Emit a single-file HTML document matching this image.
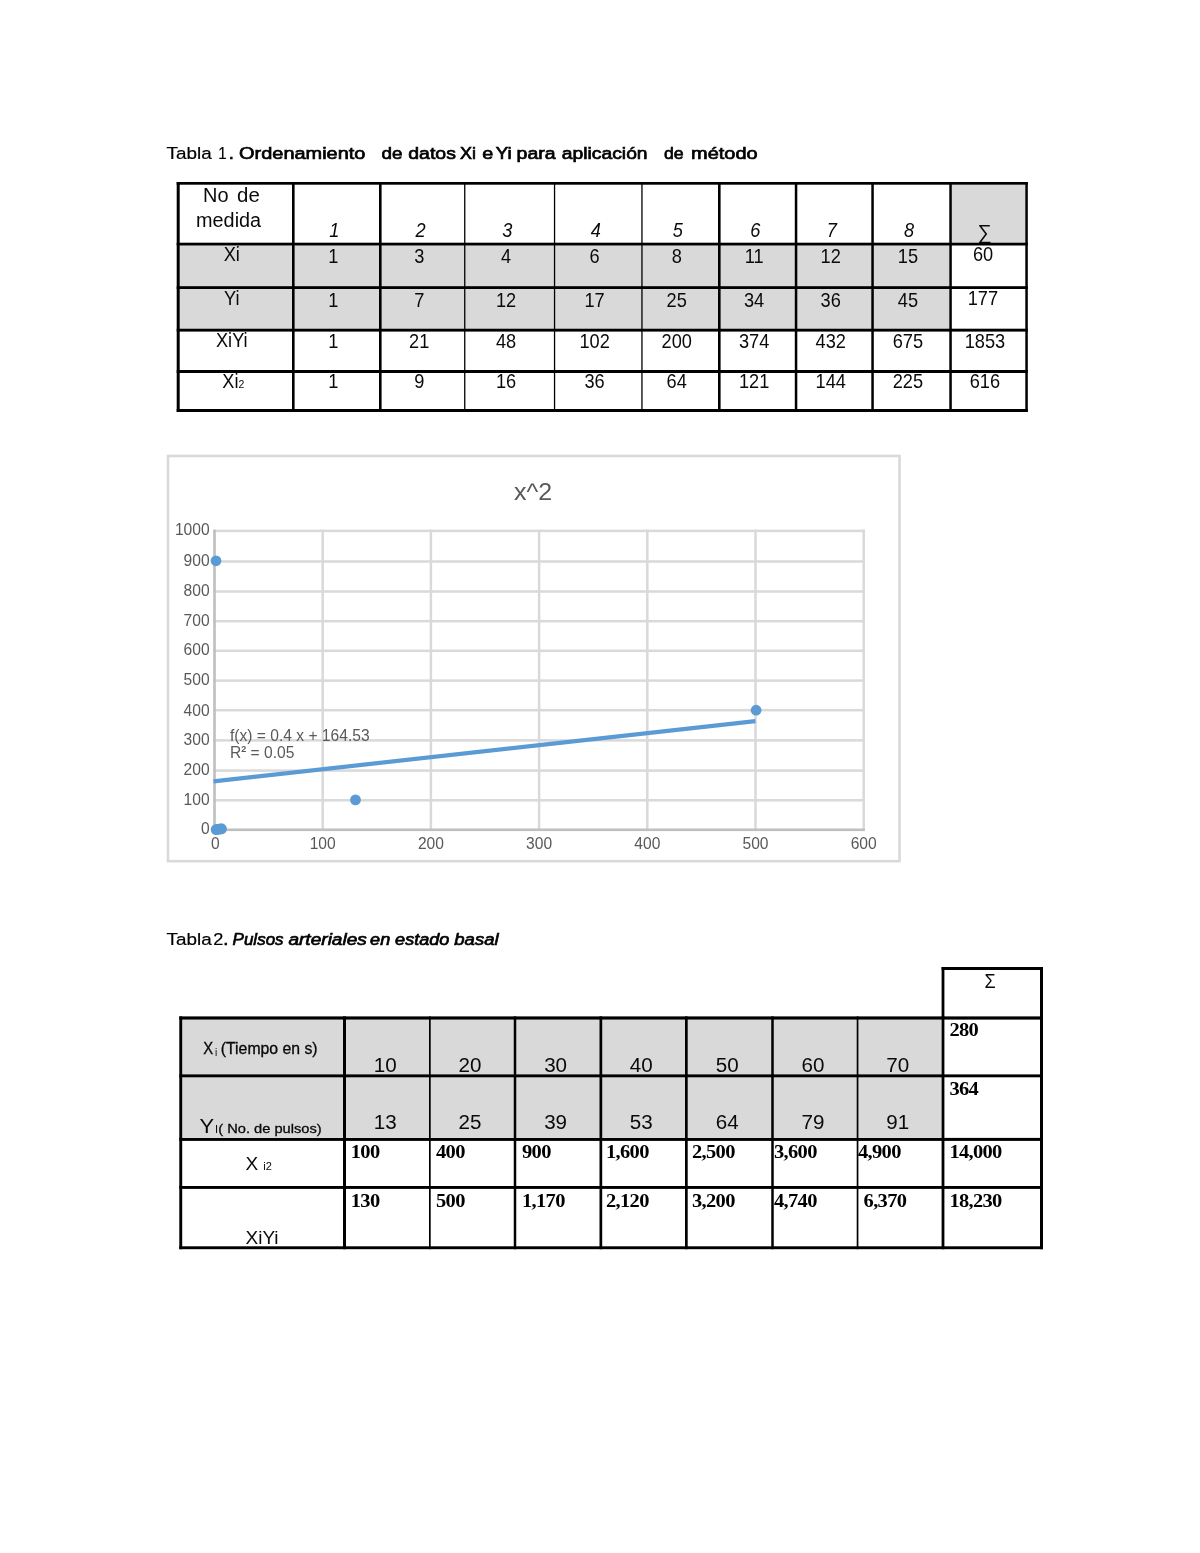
<!DOCTYPE html>
<html lang="es"><head><meta charset="utf-8"><title>Tabla 1 y Tabla 2</title>
<style>
html,body{margin:0;padding:0;background:#fff}
body{width:1200px;height:1553px;overflow:hidden;position:relative}
svg{position:absolute;left:0;top:0;display:block}
text{font-family:"Liberation Sans",sans-serif;fill:#0a0a0a}
.it{font-style:italic}
.cap{font-size:17.4px;fill:#000;stroke:#000;stroke-width:.2px}
.b{stroke:#000;stroke-width:0.7px}
.ch{font-size:15.6px;fill:#595959}
.se{font-family:"Liberation Serif",serif;font-weight:bold;font-size:18.6px;fill:#000;letter-spacing:-0.6px}
.s15{font-size:15.6px;stroke:#000;stroke-width:.3px}.s10{font-size:10px}.s11{font-size:11px}.s13{font-size:13.6px;stroke:#000;stroke-width:.3px}.s19{font-size:19.4px}
.m{text-anchor:middle}
.e{text-anchor:end}
</style></head><body>
<svg width="1200" height="1553" viewBox="0 0 1200 1553">

<text x="166.6" y="159.3" class="cap" textLength="45.1" lengthAdjust="spacingAndGlyphs">Tabla</text>
<text x="218.3" y="159.3" class="cap" textLength="8.4" lengthAdjust="spacingAndGlyphs">1</text>
<text x="228.8" y="159.3" class="cap b" textLength="5.1" lengthAdjust="spacingAndGlyphs">.</text>
<text x="239.1" y="159.3" class="cap b" textLength="126.3" lengthAdjust="spacingAndGlyphs">Ordenamiento</text>
<text x="381.6" y="159.3" class="cap b" textLength="21.0" lengthAdjust="spacingAndGlyphs">de</text>
<text x="408.3" y="159.3" class="cap b" textLength="47.6" lengthAdjust="spacingAndGlyphs">datos</text>
<text x="459.9" y="159.3" class="cap b" textLength="16.0" lengthAdjust="spacingAndGlyphs">Xi</text>
<text x="482.3" y="159.3" class="cap b" textLength="11.0" lengthAdjust="spacingAndGlyphs">e</text>
<text x="495.8" y="159.3" class="cap b" textLength="15.9" lengthAdjust="spacingAndGlyphs">Yi</text>
<text x="516.6" y="159.3" class="cap b" textLength="39.0" lengthAdjust="spacingAndGlyphs">para</text>
<text x="561.8" y="159.3" class="cap b" textLength="85.8" lengthAdjust="spacingAndGlyphs">aplicación</text>
<text x="663.9" y="159.3" class="cap b" textLength="19.7" lengthAdjust="spacingAndGlyphs">de</text>
<text x="691.1" y="159.3" class="cap b" textLength="66.6" lengthAdjust="spacingAndGlyphs">método</text>
<rect x="951.80" y="184.70" width="73.50" height="58.00" fill="#d9d9d9"/>
<rect x="179.50" y="245.50" width="769.80" height="83.20" fill="#d9d9d9"/>
<rect x="176.70" y="182.00" width="3.00" height="230.00" fill="#000"/>
<rect x="292.00" y="182.00" width="2.60" height="230.00" fill="#000"/>
<rect x="379.00" y="182.00" width="2.60" height="230.00" fill="#000"/>
<rect x="464.10" y="182.00" width="1.30" height="230.00" fill="#000"/>
<rect x="553.90" y="182.00" width="1.30" height="230.00" fill="#000"/>
<rect x="641.30" y="182.00" width="1.30" height="230.00" fill="#000"/>
<rect x="718.00" y="182.00" width="2.60" height="230.00" fill="#000"/>
<rect x="794.80" y="182.00" width="2.50" height="230.00" fill="#000"/>
<rect x="871.30" y="182.00" width="2.50" height="230.00" fill="#000"/>
<rect x="949.30" y="182.00" width="2.50" height="230.00" fill="#000"/>
<rect x="1025.30" y="182.00" width="2.50" height="230.00" fill="#000"/>
<rect x="176.70" y="182.00" width="851.10" height="2.70" fill="#000"/>
<rect x="176.70" y="242.70" width="851.10" height="2.80" fill="#000"/>
<rect x="176.70" y="286.20" width="851.10" height="2.80" fill="#000"/>
<rect x="176.70" y="328.70" width="851.10" height="2.90" fill="#000"/>
<rect x="176.70" y="370.00" width="851.10" height="3.00" fill="#000"/>
<rect x="176.70" y="409.00" width="851.10" height="3.00" fill="#000"/>
<text x="203.1" y="202.0" font-size="19.6" textLength="25.5" lengthAdjust="spacingAndGlyphs">No</text>
<text x="237.1" y="202.0" font-size="19.6" textLength="22.7" lengthAdjust="spacingAndGlyphs">de</text>
<text x="196.1" y="227.2" font-size="19.6" textLength="65.0" lengthAdjust="spacingAndGlyphs">medida</text>
<text transform="translate(334.4 237.0) scale(0.91 1)" class="it m" font-size="20">1</text>
<text transform="translate(420.5 237.0) scale(0.91 1)" class="it m" font-size="20">2</text>
<text transform="translate(507.2 237.0) scale(0.91 1)" class="it m" font-size="20">3</text>
<text transform="translate(595.9 237.0) scale(0.91 1)" class="it m" font-size="20">4</text>
<text transform="translate(677.9 237.0) scale(0.91 1)" class="it m" font-size="20">5</text>
<text transform="translate(755.3 237.0) scale(0.91 1)" class="it m" font-size="20">6</text>
<text transform="translate(831.9 237.0) scale(0.91 1)" class="it m" font-size="20">7</text>
<text transform="translate(909.1 237.0) scale(0.91 1)" class="it m" font-size="20">8</text>
<text transform="translate(984.5 239.3) scale(1.0 1)" class="m" font-size="20">∑</text>
<text transform="translate(231.8 260.7) scale(0.91 1)" class="m" font-size="20">Xi</text>
<text transform="translate(333.2 262.5) scale(0.91 1)" class="m" font-size="20">1</text>
<text transform="translate(419.2 262.5) scale(0.91 1)" class="m" font-size="20">3</text>
<text transform="translate(506.0 262.5) scale(0.91 1)" class="m" font-size="20">4</text>
<text transform="translate(594.6 262.5) scale(0.91 1)" class="m" font-size="20">6</text>
<text transform="translate(676.7 262.5) scale(0.91 1)" class="m" font-size="20">8</text>
<text transform="translate(754.1 262.5) scale(0.91 1)" class="m" font-size="20">11</text>
<text transform="translate(830.7 262.5) scale(0.91 1)" class="m" font-size="20">12</text>
<text transform="translate(907.9 262.5) scale(0.91 1)" class="m" font-size="20">15</text>
<text transform="translate(983.1 260.7) scale(0.91 1)" class="m" font-size="20">60</text>
<text transform="translate(231.8 304.7) scale(0.91 1)" class="m" font-size="20">Yi</text>
<text transform="translate(333.2 307.4) scale(0.91 1)" class="m" font-size="20">1</text>
<text transform="translate(419.2 307.4) scale(0.91 1)" class="m" font-size="20">7</text>
<text transform="translate(506.0 307.4) scale(0.91 1)" class="m" font-size="20">12</text>
<text transform="translate(594.6 307.4) scale(0.91 1)" class="m" font-size="20">17</text>
<text transform="translate(676.7 307.4) scale(0.91 1)" class="m" font-size="20">25</text>
<text transform="translate(754.1 307.4) scale(0.91 1)" class="m" font-size="20">34</text>
<text transform="translate(830.7 307.4) scale(0.91 1)" class="m" font-size="20">36</text>
<text transform="translate(907.9 307.4) scale(0.91 1)" class="m" font-size="20">45</text>
<text transform="translate(982.9 304.8) scale(0.91 1)" class="m" font-size="20">177</text>
<text transform="translate(231.8 347.0) scale(0.91 1)" class="m" font-size="20">XiYi</text>
<text transform="translate(333.2 347.5) scale(0.91 1)" class="m" font-size="20">1</text>
<text transform="translate(419.2 347.5) scale(0.91 1)" class="m" font-size="20">21</text>
<text transform="translate(506.0 347.5) scale(0.91 1)" class="m" font-size="20">48</text>
<text transform="translate(594.6 347.5) scale(0.91 1)" class="m" font-size="20">102</text>
<text transform="translate(676.7 347.5) scale(0.91 1)" class="m" font-size="20">200</text>
<text transform="translate(754.1 347.5) scale(0.91 1)" class="m" font-size="20">374</text>
<text transform="translate(830.7 347.5) scale(0.91 1)" class="m" font-size="20">432</text>
<text transform="translate(907.9 347.5) scale(0.91 1)" class="m" font-size="20">675</text>
<text transform="translate(984.9 347.5) scale(0.91 1)" class="m" font-size="20">1853</text>
<text transform="translate(222.3 387.7) scale(0.91 1)" font-size="20">Xi<tspan font-size="11.5">2</tspan></text>
<text transform="translate(333.2 388.4) scale(0.91 1)" class="m" font-size="20">1</text>
<text transform="translate(419.2 388.4) scale(0.91 1)" class="m" font-size="20">9</text>
<text transform="translate(506.0 388.4) scale(0.91 1)" class="m" font-size="20">16</text>
<text transform="translate(594.6 388.4) scale(0.91 1)" class="m" font-size="20">36</text>
<text transform="translate(676.7 388.4) scale(0.91 1)" class="m" font-size="20">64</text>
<text transform="translate(754.1 388.4) scale(0.91 1)" class="m" font-size="20">121</text>
<text transform="translate(830.7 388.4) scale(0.91 1)" class="m" font-size="20">144</text>
<text transform="translate(907.9 388.4) scale(0.91 1)" class="m" font-size="20">225</text>
<text transform="translate(984.9 388.4) scale(0.91 1)" class="m" font-size="20">616</text>
<rect x="168" y="455.95" width="731.5" height="405.2" fill="#fff" stroke="#d9d9d9" stroke-width="2.6"/>
<rect x="213.20" y="799.05" width="651.70" height="2.50" fill="#d9d9d9"/>
<rect x="213.20" y="769.35" width="651.70" height="2.50" fill="#d9d9d9"/>
<rect x="213.20" y="739.15" width="651.70" height="2.50" fill="#d9d9d9"/>
<rect x="213.20" y="708.95" width="651.70" height="2.50" fill="#d9d9d9"/>
<rect x="213.20" y="679.35" width="651.70" height="2.50" fill="#d9d9d9"/>
<rect x="213.20" y="649.55" width="651.70" height="2.50" fill="#d9d9d9"/>
<rect x="213.20" y="619.95" width="651.70" height="2.50" fill="#d9d9d9"/>
<rect x="213.20" y="590.25" width="651.70" height="2.50" fill="#d9d9d9"/>
<rect x="213.20" y="560.25" width="651.70" height="2.50" fill="#d9d9d9"/>
<rect x="213.20" y="529.65" width="651.70" height="2.50" fill="#d9d9d9"/>
<rect x="321.45" y="529.65" width="2.50" height="301.40" fill="#d9d9d9"/>
<rect x="429.65" y="529.65" width="2.50" height="301.40" fill="#d9d9d9"/>
<rect x="537.85" y="529.65" width="2.50" height="301.40" fill="#d9d9d9"/>
<rect x="646.05" y="529.65" width="2.50" height="301.40" fill="#d9d9d9"/>
<rect x="754.25" y="529.65" width="2.50" height="301.40" fill="#d9d9d9"/>
<rect x="862.45" y="529.65" width="2.50" height="301.40" fill="#d9d9d9"/>
<rect x="213.20" y="529.65" width="2.60" height="301.45" fill="#bfbfbf"/>
<rect x="213.20" y="828.50" width="651.70" height="2.60" fill="#bfbfbf"/>
<text x="209.6" y="834.2" class="ch e">0</text>
<text x="209.6" y="804.7" class="ch e">100</text>
<text x="209.6" y="775.0" class="ch e">200</text>
<text x="209.6" y="744.8" class="ch e">300</text>
<text x="209.6" y="715.5" class="ch e">400</text>
<text x="209.6" y="685.0" class="ch e">500</text>
<text x="209.6" y="655.2" class="ch e">600</text>
<text x="209.6" y="625.6" class="ch e">700</text>
<text x="209.6" y="595.9" class="ch e">800</text>
<text x="209.6" y="566.1" class="ch e">900</text>
<text x="209.6" y="534.9" class="ch e">1000</text>
<text x="215.4" y="848.5" class="ch m">0</text>
<text x="322.7" y="848.5" class="ch m">100</text>
<text x="430.9" y="848.5" class="ch m">200</text>
<text x="539.1" y="848.5" class="ch m">300</text>
<text x="647.3" y="848.5" class="ch m">400</text>
<text x="755.5" y="848.5" class="ch m">500</text>
<text x="863.7" y="848.5" class="ch m">600</text>
<text transform="translate(533 499.5) scale(1.07 1)" class="m" style="font-size:23.4px;fill:#595959">x^2</text>
<line x1="213.5" y1="781.3" x2="755.5" y2="721.2" stroke="#5b9bd5" stroke-width="4.2"/>
<circle cx="216.0" cy="560.8" r="5.4" fill="#5b9bd5"/>
<circle cx="355.5" cy="799.9" r="5.4" fill="#5b9bd5"/>
<circle cx="756.1" cy="710.2" r="5.4" fill="#5b9bd5"/>
<circle cx="216.2" cy="829.6" r="5.5" fill="#5b9bd5"/>
<circle cx="219" cy="829.2" r="5.5" fill="#5b9bd5"/>
<circle cx="221.4" cy="828.8" r="5.5" fill="#5b9bd5"/>
<text x="230.0" y="740.7" class="ch">f(x) = 0.4 x + 164.53</text>
<text x="230" y="757.7" class="ch">R<tspan dy="-6" font-size="9px" font-weight="bold">2</tspan><tspan dy="6"> = 0.05</tspan></text>
<text x="166.6" y="945.3" class="cap" textLength="45.1" lengthAdjust="spacingAndGlyphs">Tabla</text>
<text x="213.3" y="945.3" class="cap" textLength="10.1" lengthAdjust="spacingAndGlyphs">2</text>
<text x="223.3" y="945.3" class="cap b" textLength="5.1" lengthAdjust="spacingAndGlyphs">.</text>
<text x="232.6" y="945.3" class="cap b it" textLength="51.0" lengthAdjust="spacingAndGlyphs">Pulsos</text>
<text x="288.4" y="945.3" class="cap b it" textLength="78.5" lengthAdjust="spacingAndGlyphs">arteriales</text>
<text x="370.1" y="945.3" class="cap b it" textLength="20.1" lengthAdjust="spacingAndGlyphs">en</text>
<text x="395.1" y="945.3" class="cap b it" textLength="54.3" lengthAdjust="spacingAndGlyphs">estado</text>
<text x="454.3" y="945.3" class="cap b it" textLength="44.3" lengthAdjust="spacingAndGlyphs">basal</text>
<rect x="182.20" y="1019.60" width="759.40" height="117.70" fill="#d9d9d9"/>
<rect x="179.30" y="1016.40" width="2.90" height="232.80" fill="#000"/>
<rect x="343.00" y="1016.40" width="3.00" height="232.80" fill="#000"/>
<rect x="429.00" y="1016.40" width="1.70" height="232.80" fill="#000"/>
<rect x="513.75" y="1016.40" width="2.50" height="232.80" fill="#000"/>
<rect x="599.50" y="1016.40" width="2.70" height="232.80" fill="#000"/>
<rect x="685.00" y="1016.40" width="2.70" height="232.80" fill="#000"/>
<rect x="771.25" y="1016.40" width="2.50" height="232.80" fill="#000"/>
<rect x="856.70" y="1016.40" width="1.70" height="232.80" fill="#000"/>
<rect x="941.60" y="1016.40" width="2.80" height="232.80" fill="#000"/>
<rect x="1040.00" y="1016.40" width="3.00" height="232.80" fill="#000"/>
<rect x="179.30" y="1016.40" width="863.70" height="3.20" fill="#000"/>
<rect x="179.30" y="1074.40" width="863.70" height="2.90" fill="#000"/>
<rect x="179.30" y="1137.90" width="863.70" height="3.00" fill="#000"/>
<rect x="179.30" y="1186.00" width="863.70" height="2.90" fill="#000"/>
<rect x="179.30" y="1246.30" width="863.70" height="2.90" fill="#000"/>
<rect x="941.60" y="967.00" width="101.40" height="3.00" fill="#000"/>
<rect x="941.60" y="967.00" width="2.80" height="50.00" fill="#000"/>
<rect x="1040.00" y="967.00" width="3.00" height="50.00" fill="#000"/>
<text transform="translate(984.6 988.3) scale(0.88 1)" font-size="20.5">Σ</text>
<text x="203.3" y="1054.2" class="s15" textLength="9.9" lengthAdjust="spacingAndGlyphs">X</text>
<text x="215.0" y="1056.2" class="s10">i</text>
<text x="220.8" y="1054.2" class="s15" textLength="96.8" lengthAdjust="spacingAndGlyphs">(Tiempo en s)</text>
<text transform="translate(385.2 1071.6) scale(1.03 1)" class="m" font-size="20">10</text>
<text transform="translate(469.9 1071.6) scale(1.03 1)" class="m" font-size="20">20</text>
<text transform="translate(555.6 1071.6) scale(1.03 1)" class="m" font-size="20">30</text>
<text transform="translate(641.3 1071.6) scale(1.03 1)" class="m" font-size="20">40</text>
<text transform="translate(727.2 1071.6) scale(1.03 1)" class="m" font-size="20">50</text>
<text transform="translate(812.9 1071.6) scale(1.03 1)" class="m" font-size="20">60</text>
<text transform="translate(897.7 1071.6) scale(1.03 1)" class="m" font-size="20">70</text>
<text x="199.6" y="1133.3" class="s19" textLength="14.6" lengthAdjust="spacingAndGlyphs">Y</text>
<text x="215.0" y="1133.3" class="s11">I</text>
<text x="218.3" y="1133.3" class="s13" textLength="103.4" lengthAdjust="spacingAndGlyphs">( No. de pulsos)</text>
<text transform="translate(385.2 1129.2) scale(1.03 1)" class="m" font-size="20">13</text>
<text transform="translate(469.9 1129.2) scale(1.03 1)" class="m" font-size="20">25</text>
<text transform="translate(555.6 1129.2) scale(1.03 1)" class="m" font-size="20">39</text>
<text transform="translate(641.3 1129.2) scale(1.03 1)" class="m" font-size="20">53</text>
<text transform="translate(727.2 1129.2) scale(1.03 1)" class="m" font-size="20">64</text>
<text transform="translate(812.9 1129.2) scale(1.03 1)" class="m" font-size="20">79</text>
<text transform="translate(897.7 1129.2) scale(1.03 1)" class="m" font-size="20">91</text>
<text x="245.5" y="1170" font-size="19">X<tspan font-size="11px" dx="5">i2</tspan></text>
<text x="245.5" y="1243.7" font-size="19">XiYi</text>
<text transform="translate(949.4 1036.0) scale(1.1 1)" class="se">280</text>
<text transform="translate(949.4 1095.0) scale(1.1 1)" class="se">364</text>
<text transform="translate(350.8 1157.6) scale(1.1 1)" class="se">100</text>
<text transform="translate(436.0 1157.6) scale(1.1 1)" class="se">400</text>
<text transform="translate(522.0 1157.6) scale(1.1 1)" class="se">900</text>
<text transform="translate(606.0 1157.6) scale(1.1 1)" class="se">1,600</text>
<text transform="translate(692.0 1157.6) scale(1.1 1)" class="se">2,500</text>
<text transform="translate(774.0 1157.6) scale(1.1 1)" class="se">3,600</text>
<text transform="translate(858.0 1157.6) scale(1.1 1)" class="se">4,900</text>
<text transform="translate(949.4 1157.6) scale(1.1 1)" class="se">14,000</text>
<text transform="translate(350.8 1206.6) scale(1.1 1)" class="se">130</text>
<text transform="translate(436.0 1206.6) scale(1.1 1)" class="se">500</text>
<text transform="translate(522.0 1206.6) scale(1.1 1)" class="se">1,170</text>
<text transform="translate(606.0 1206.6) scale(1.1 1)" class="se">2,120</text>
<text transform="translate(692.0 1206.6) scale(1.1 1)" class="se">3,200</text>
<text transform="translate(774.0 1206.6) scale(1.1 1)" class="se">4,740</text>
<text transform="translate(863.6 1206.6) scale(1.1 1)" class="se">6,370</text>
<text transform="translate(949.4 1206.6) scale(1.1 1)" class="se">18,230</text>
</svg></body></html>
